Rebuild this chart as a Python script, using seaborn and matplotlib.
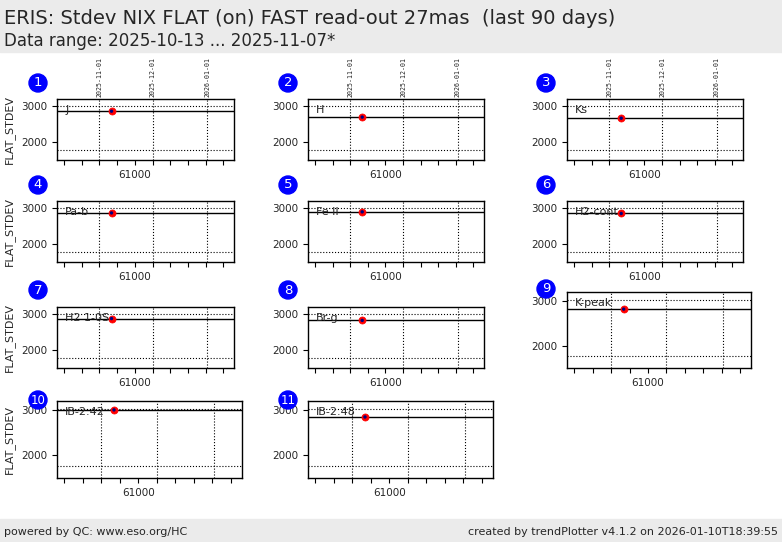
import numpy as np
import pandas as pd
import matplotlib
matplotlib.use("Agg")
import matplotlib.pyplot as plt
import matplotlib.transforms as mtransforms
from matplotlib.patches import Rectangle, Circle
from matplotlib.ticker import MultipleLocator
import seaborn as sns

# data
filters = ["J", "H", "Ks", "Pa-b", "Fe II", "H2-cont", "H2 1-0S", "Br-g", "K-peak", "IB-2.42", "IB-2.48"]
flat_stdev = [2853, 2690, 2660, 2860, 2890, 2845, 2870, 2820, 2810, 2995, 2840]
obs_mjd = [60986.8] * 11
upper_limit = 3010
lower_limit = 1775
date_labels = ["2025-11-01", "2025-12-01", "2026-01-01"]
date_mjd = [60980, 61010, 61041]

W, H = 782, 542
sns.set_style("ticks")
plt.rcParams["font.family"] = ["DejaVu Sans"]
plt.rcParams["xtick.labelsize"] = 7.5
plt.rcParams["ytick.labelsize"] = 7.5

fig = plt.figure(figsize=(W / 100, H / 100), dpi=100)
# pixel coordinates measured from the top-left corner
pix = mtransforms.Affine2D().scale(1 / W, -1 / H).translate(0, 1) + fig.transFigure

# header / footer bands
fig.add_artist(Rectangle((0, 0), W, 52, transform=pix, color="#ebebeb", zorder=0))
fig.add_artist(Rectangle((0, 519), W, 23, transform=pix, color="#ebebeb", zorder=0))
fig.text(4, 18, "ERIS: Stdev NIX FLAT (on) FAST read-out 27mas  (last 90 days)", transform=pix,
         fontsize=14, va="center", ha="left")
fig.text(4, 41, "Data range: 2025-10-13 ... 2025-11-07*", transform=pix,
         fontsize=12, va="center", ha="left")
fig.text(4, 532, "powered by QC: www.eso.org/HC", transform=pix, fontsize=8, va="center")
fig.text(778, 532, "created by trendPlotter v4.1.2 on 2026-01-10T18:39:55", transform=pix,
         fontsize=8, va="center", ha="right")

# panel boxes in pixels (x0, y0, x1, y1) and badge centres
boxes = [(57, 99, 234, 160), (308, 99, 484, 160), (567, 99, 743, 160),
         (57, 201, 234, 262), (308, 201, 484, 262), (567, 201, 743, 262),
         (57, 307, 234, 368), (308, 307, 484, 368), (567, 292, 751, 368),
         (57, 401, 242, 478), (308, 401, 493, 478)]
badges = [(38, 83), (288, 83), (546, 83),
          (38, 185), (288, 185), (546, 185),
          (38, 290), (288, 290), (546, 289),
          (38, 400), (288, 400)]

for i, (name, val, mjd) in enumerate(zip(filters, flat_stdev, obs_mjd)):
    x0, y0, x1, y1 = boxes[i]
    ax = fig.add_axes([x0 / W, 1 - y1 / H, (x1 - x0) / W, (y1 - y0) / H])
    df = pd.DataFrame({"mjd": [mjd], "value": [val]})
    ax.axhline(val, color="black", lw=1, zorder=2)
    for d in date_mjd:
        ax.axvline(d, color="black", ls=":", lw=0.8, zorder=1)
    ax.axhline(upper_limit, color="black", ls=":", lw=0.8, zorder=1)
    ax.axhline(lower_limit, color="black", ls=":", lw=0.8, zorder=1)
    sns.scatterplot(data=df, x="mjd", y="value", ax=ax, color="red", s=26,
                    edgecolor="red", linewidth=0.5, zorder=3, legend=False)
    sns.scatterplot(data=df, x="mjd", y="value", ax=ax, color="#000080", s=6,
                    edgecolor="none", zorder=4, legend=False)
    ax.set_xlim(60956, 61056)
    ax.set_ylim(1505, 3190)
    ax.xaxis.set_major_locator(MultipleLocator(100))
    ax.xaxis.set_minor_locator(MultipleLocator(10))
    ax.yaxis.set_major_locator(MultipleLocator(1000))
    ax.tick_params(which="both", direction="out", length=3.5, width=0.8, color="black")
    ax.set_xlabel("")
    ax.set_ylabel("")
    for sp in ax.spines.values():
        sp.set_visible(True)
        sp.set_color("black")
        sp.set_linewidth(1)
    ax.annotate(name, xy=(0, 1), xycoords="axes fraction", xytext=(6, -8),
                textcoords="offset points", fontsize=8, va="center", ha="left", zorder=5)
    if i < 3:
        trans = mtransforms.blended_transform_factory(ax.transData, ax.transAxes)
        for lab, d in zip(date_labels, date_mjd):
            ax.text(d, 1.04, lab, transform=trans, rotation=90, ha="center", va="bottom",
                    fontsize=4.8, family="DejaVu Sans Mono", color="#222222")
    if x0 < 100:
        fig.text(9, (y0 + y1) / 2, "FLAT_STDEV", transform=pix, rotation=90,
                 fontsize=8, va="center", ha="center")
    bx, by = badges[i]
    fig.add_artist(Circle((bx, by), 9, transform=pix, color="#0000ff", zorder=9))
    fig.text(bx, by, str(i + 1), transform=pix, color="white",
             fontsize=9.5 if i < 9 else 8.5, ha="center", va="center", zorder=10)

fig.savefig("out.png", dpi=100)
